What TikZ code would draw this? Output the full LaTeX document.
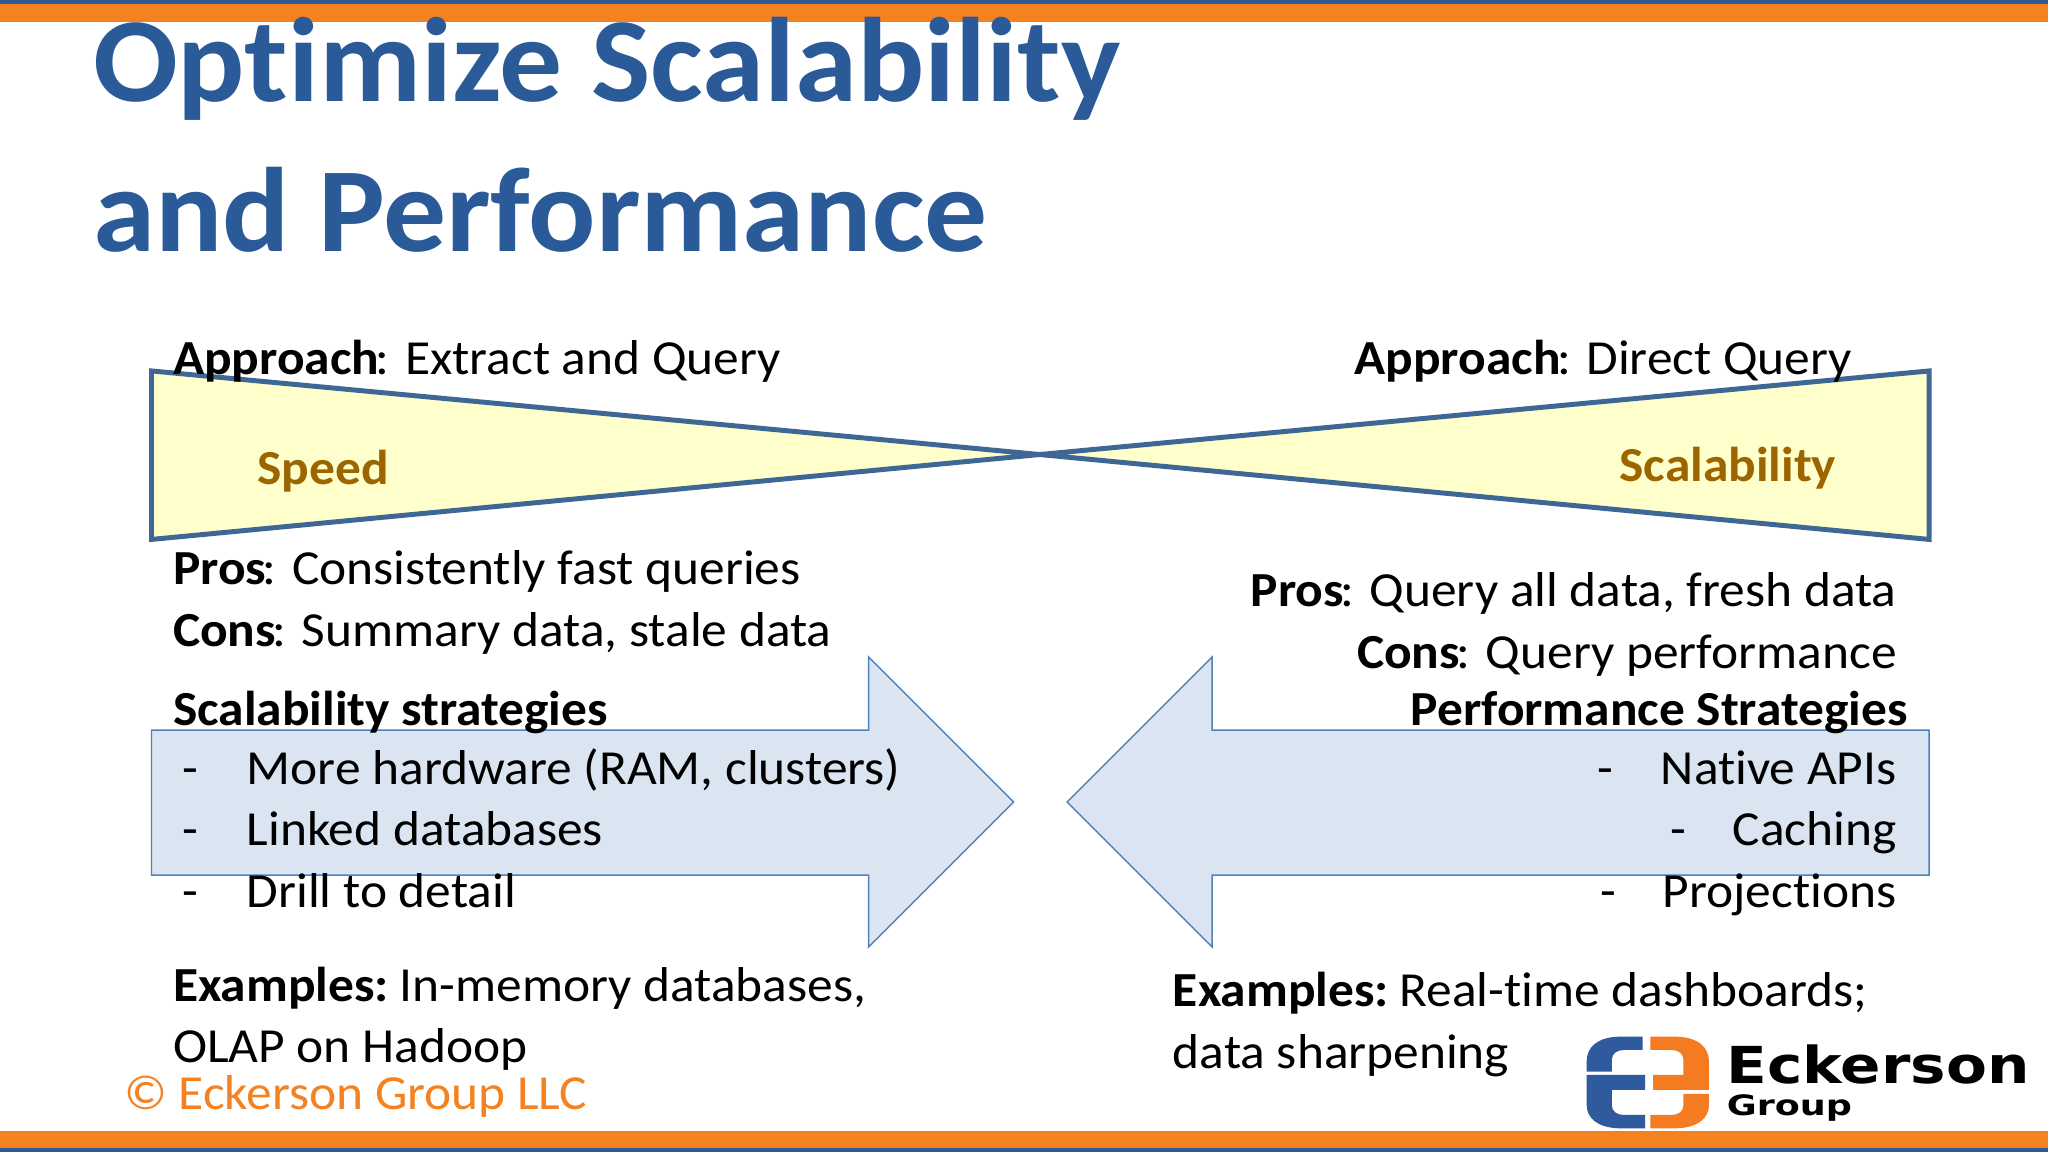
\documentclass[tikz,border=0pt]{standalone}
\usepackage{fontspec}
\setmainfont{Carlito}[Ligatures=NoCommon]
\newfontfamily\logofont{DejaVu Sans}
\definecolor{navybar}{HTML}{2B5A94}
\definecolor{orangebar}{HTML}{F58220}
\definecolor{titleblue}{HTML}{2A5A98}
\definecolor{bowline}{HTML}{3F6796}
\definecolor{bowfill}{HTML}{FFFFCC}
\definecolor{arrowline}{HTML}{4F81BD}
\definecolor{arrowfill}{HTML}{DBE5F1}
\definecolor{tradeoff}{HTML}{9C6500}
\definecolor{logoblue}{HTML}{2F5A9E}
\definecolor{logoorange}{HTML}{F47B20}
\newcommand{\lead}[1]{\textbf{#1}\kern-2.5pt\relax}
\newcommand{\leadex}[1]{\textbf{#1}\kern-3.5pt\relax}
\tikzset{
  x=1pt,y=-1pt,
  bow/.style={draw=bowline,fill=bowfill,line width=3.8pt,line join=miter},
  bigarrow/.style={draw=arrowline,fill=arrowfill,line width=1.1pt,line join=miter},
  lbl/.style={inner sep=0pt,outer sep=0pt,anchor=base west,text=black,xscale=1.05,yshift=-0.7pt,font=\fontsize{37.5}{37.5}\selectfont},
  rlbl/.style={lbl,anchor=base east},
  ttl/.style={inner sep=0pt,anchor=base west,text=titleblue,xscale=1.045,font=\fontsize{92}{92}\selectfont\bfseries},
  trade/.style={inner sep=0pt,anchor=base west,text=tradeoff,xscale=1.05,yshift=-0.7pt,font=\fontsize{37.5}{37.5}\selectfont\bfseries},
}
\begin{document}
\begin{tikzpicture}
\useasboundingbox (0,0) rectangle (1568,882);
\fill[white] (0,0) rectangle (1568,882);
% bars
\fill[navybar] (0,0) rectangle (1568,3);
\fill[orangebar] (0,3) rectangle (1568,16.5);
\fill[orangebar] (0,866) rectangle (1568,879);
\fill[navybar] (0,879) rectangle (1568,882);
% bowtie
\draw[bow] (116,284) -- (796,348) -- (116,413) -- cycle;
\draw[bow] (1477,284) -- (796,348) -- (1477,413) -- cycle;
% arrows
\draw[bigarrow] (116,559) -- (665,559) -- (665,503) -- (776,614) -- (665,725) -- (665,670) -- (116,670) -- cycle;
\draw[bigarrow] (1477,559) -- (928,559) -- (928,503) -- (817,614) -- (928,725) -- (928,670) -- (1477,670) -- cycle;
% title
\node[ttl] (t1) at (71,78) {Optimize Scalability};
\node[ttl] (t2) at (71,192.5) {and Performance};
% left column
\node[lbl] (la) at (132.5,286) {\lead{Approach}: Extract and Query};
\node[trade] (sp) at (197,370) {Speed};
\node[lbl] (lp) at (132.5,447) {\lead{Pros}: Consistently fast queries};
\node[lbl] (lc) at (132.5,494) {\lead{Cons}: Summary data, stale data};
\node[lbl] (ls) at (132.5,555) {\textbf{Scalability strategies}};
\node[lbl] (ld1) at (140,600) {-};
\node[lbl] (l1) at (189,600) {More hardware (RAM, clusters)};
\node[lbl] (ld2) at (140,647) {-};
\node[lbl] (l2) at (189,647) {Linked databases};
\node[lbl] (ld3) at (140,694) {-};
\node[lbl] (l3) at (189,694) {Drill to detail};
\node[lbl] (le1) at (132.5,766) {\leadex{Examples:} In-memory databases,};
\node[lbl] (le2) at (132.5,813) {OLAP on Hadoop};
\node[lbl,text=orangebar] (cp) at (95,849) {© Eckerson Group LLC};
% right column
\node[lbl] (ra) at (1037,286) {\lead{Approach}: Direct Query};
\node[trade,anchor=base east] (sc) at (1406,368) {Scalability};
\node[rlbl] (rp) at (1452,464) {\lead{Pros}: Query all data, fresh data};
\node[rlbl] (rc) at (1452,511) {\lead{Cons}: Query performance};
\node[rlbl] (rs) at (1460.5,555) {\textbf{Performance Strategies}};
\node[lbl] (rd1) at (1223,600) {-};
\node[rlbl] (r1) at (1452,600) {Native APIs};
\node[lbl] (rd2) at (1279,647) {-};
\node[rlbl] (r2) at (1452,647) {Caching};
\node[lbl] (rd3) at (1225,694) {-};
\node[rlbl] (r3) at (1452,694) {Projections};
\node[lbl] (re1) at (898,770) {\leadex{Examples:} Real-time dashboards;};
\node[lbl] (re2) at (898,817) {data sharpening};
% logo (drawn in the zoom's coordinates)
\begin{scope}[shift={(1148.4,750.3)},x=0.2676pt,y=-0.2552pt]
\fill[logoblue] (408,170) -- (340,170) .. controls (280,172) and (248,200) .. (248,245) -- (248,275) -- (320,275) -- (320,240) .. controls (320,220) and (335,210) .. (355,210) -- (408,210) -- cycle;
\fill[logoblue] (248,285) -- (415,285) -- (415,330) -- (320,330) -- (320,375) .. controls (320,395) and (335,405) .. (355,405) -- (415,405) -- (415,445) -- (340,445) .. controls (280,443) and (248,415) .. (248,375) -- cycle;
\fill[logoorange] (430,170) -- (505,170) .. controls (565,172) and (598,200) .. (598,245) -- (598,330) -- (438,330) -- (438,285) -- (525,285) -- (525,240) .. controls (525,220) and (510,210) .. (490,210) -- (430,210) -- cycle;
\fill[logoorange] (598,342) -- (598,375) .. controls (598,415) and (565,443) .. (505,445) -- (430,445) -- (430,405) -- (490,405) .. controls (510,405) and (525,395) .. (525,375) -- (525,342) -- cycle;
\node[inner sep=0pt,anchor=base west,xscale=1.17,font=\logofont\bfseries\fontsize{39}{39}\selectfont] (lg1) at (648,312) {Eckerson};
\node[inner sep=0pt,anchor=base west,xscale=1.3,font=\logofont\bfseries\fontsize{21.5}{21.5}\selectfont] (lg2) at (648,408) {Group};
\end{scope}
\end{tikzpicture}
\end{document}
